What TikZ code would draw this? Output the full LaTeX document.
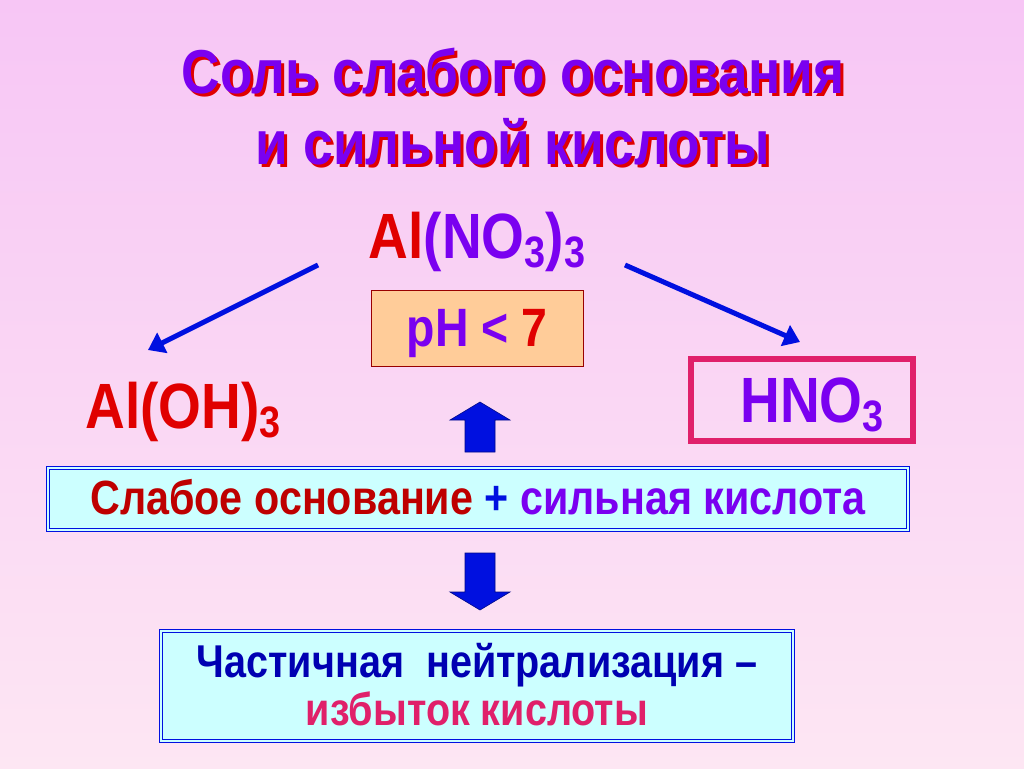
\documentclass[tikz,border=0pt]{standalone}
\usepackage{fontspec}
\setmainfont{Liberation Sans}
\newfontfamily\narrow[FakeStretch=0.86]{Liberation Sans}
\usetikzlibrary{arrows.meta}
\definecolor{bgtop}{HTML}{F7C6F5}
\definecolor{bgbot}{HTML}{FDE6F3}
\definecolor{vio}{HTML}{7A00F0}
\definecolor{rd}{HTML}{E00000}
\definecolor{bl}{HTML}{0010E0}
\definecolor{crim}{HTML}{E0206A}
\definecolor{cy}{HTML}{CCFFFF}
\definecolor{orng}{HTML}{FFCC99}
\newcommand{\sbs}[1]{\raisebox{-9pt}{\fontsize{44}{44}\selectfont #1}}
\newcommand{\shad}[1]{\rlap{\raisebox{-3pt}{\hspace{3pt}\textcolor{rd}{#1}}}\textcolor{vio}{#1}}
\begin{document}
\begin{tikzpicture}[x=1pt,y=-1pt,
  ttl/.style={font=\narrow\bfseries\fontsize{62}{66}\selectfont},
  form/.style={font=\narrow\bfseries\fontsize{64}{70}\selectfont},
  arr/.style={draw=bl,line width=5pt,-{Triangle[length=16pt,width=22pt]}},
  blkarrow/.style={fill=bl,draw=bl!60!black,line width=0.6pt},
  cbox/.style={fill=cy,draw=bl,double=cy,double distance=2pt,line width=1pt}]
\shade[top color=bgtop,bottom color=bgbot] (0,0) rectangle (1024,768);
\useasboundingbox (0,0) rectangle (1024,768);
\node[ttl] (t1) at (513,73) {\shad{Соль слабого основания}};
\node[ttl] (t2) at (513,143) {\shad{и сильной кислоты}};
\node[form,anchor=base] (salt) at (477,258) {\textcolor{rd}{Al}\textcolor{vio}{(NO\sbs{3})\sbs{3}}};
\node[form,text=rd,anchor=base] (base) at (183,428) {Al(OH)\sbs{3}};
\node[draw=crim,line width=6pt,minimum width=222pt,minimum height=82pt] (acid) at (802,400) {};
\node[form,text=vio,anchor=base] at (812,422) {HNO\sbs{3}};
\node[fill=orng,draw=red!60!black,line width=1pt,minimum width=212pt,minimum height=76pt] (ph) at (477,328) {};
\node[font=\narrow\bfseries\fontsize{54}{60}\selectfont,anchor=base] at (477,346) {\textcolor{vio}{pH <} \textcolor{rd}{7}};
\coordinate (l0) at (318,265); \coordinate (l1) at (148,350);
\coordinate (r0) at (625,265); \coordinate (r1) at (800,342);
\draw[arr] (l0) -- (l1);
\draw[arr] (r0) -- (r1);
\draw[blkarrow] (465,452) -- (465,420) -- (450,420) -- (480,402) -- (510,420) -- (495,420) -- (495,452) -- cycle;
\node[cbox,minimum width=860pt,minimum height=62pt] (b1) at (478,499) {};
\node[font=\narrow\bfseries\fontsize{48}{52}\selectfont,anchor=base] at (478,514)
 {\textcolor{rd!85!black}{Слабое основание} \textcolor{bl}{+} \textcolor{vio}{сильная кислота}};
\draw[blkarrow] (465,553) -- (465,592) -- (450,592) -- (480,610) -- (510,592) -- (495,592) -- (495,553) -- cycle;
\node[cbox,minimum width=632pt,minimum height=110pt] (b2) at (477,686) {};
\node[font=\narrow\bfseries\fontsize{46}{50}\selectfont,text=blue!70!black,anchor=base] at (477,677) {Частичная\ \ нейтрализация –};
\node[font=\narrow\bfseries\fontsize{46}{50}\selectfont,text=crim,anchor=base] at (477,725) {избыток кислоты};
\end{tikzpicture}
\end{document}
